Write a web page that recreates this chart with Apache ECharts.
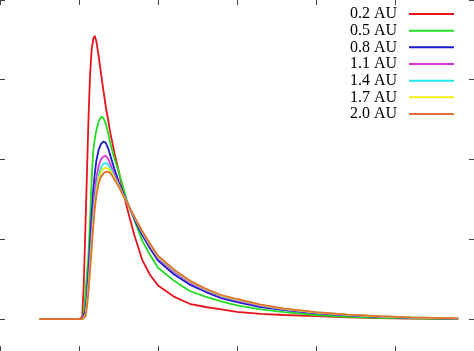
<!DOCTYPE html>
<html style="height: 100%">
   <head>
       <meta charset="utf-8">
       <title>AU profiles</title>
   </head>
   <body style="height: 100%; margin: 0; background: #fff">
       <div id="container" style="width: 474px; height: 351px"></div>
       <script type="text/javascript" src="https://cdn.jsdelivr.net/npm/echarts@6/dist/echarts.min.js"></script>
       <script type="text/javascript">
var xs = [0.5, 1.0, 1.04, 1.06, 1.08, 1.1, 1.12, 1.14, 1.16, 1.18, 1.2, 1.22, 1.25, 1.28, 1.31, 1.34, 1.37, 1.4, 1.45, 1.5,
          1.55, 1.6, 1.7, 1.8, 1.9, 2.0, 2.2, 2.4, 2.6, 2.8, 3.0, 3.3, 3.6, 4.0, 4.4, 4.8, 5.2, 5.8];

var au02 = [0, 0, 0.02, 0.42, 1.1, 1.8, 2.5, 3.05, 3.36, 3.5, 3.54, 3.47, 3.28, 3.06, 2.85, 2.65, 2.48, 2.31, 2.07, 1.86,
            1.63, 1.42, 1.05, 0.74, 0.55, 0.42, 0.28, 0.19, 0.15, 0.12, 0.09, 0.065, 0.05, 0.035, 0.02, 0.01, 0.005, 0];
var au05 = [0, 0, 0, 0.08, 0.3, 0.55, 0.8, 1.25, 1.74, 2.1, 2.25, 2.36, 2.47, 2.53, 2.51, 2.44, 2.32, 2.18, 2.0, 1.85,
            1.68, 1.5, 1.24, 0.98, 0.8, 0.64, 0.48, 0.35, 0.28, 0.22, 0.17, 0.12, 0.085, 0.05, 0.027, 0.015, 0.008, 0];
var au08 = [0, 0, 0, 0, 0.1, 0.3, 0.6, 0.95, 1.3, 1.6, 1.82, 1.98, 2.12, 2.19, 2.22, 2.2, 2.13, 2.03, 1.87, 1.72,
            1.6, 1.48, 1.25, 1.05, 0.88, 0.73, 0.56, 0.43, 0.34, 0.26, 0.21, 0.15, 0.11, 0.07, 0.045, 0.027, 0.015, 0.005];
var au11 = [0, 0, 0, 0, 0.06, 0.22, 0.47, 0.78, 1.1, 1.38, 1.6, 1.77, 1.92, 2.0, 2.03, 2.04, 2.0, 1.93, 1.8, 1.69,
            1.58, 1.48, 1.27, 1.08, 0.91, 0.76, 0.59, 0.455, 0.36, 0.28, 0.23, 0.165, 0.12, 0.078, 0.05, 0.031, 0.017, 0.006];
var au14 = [0, 0, 0, 0, 0.04, 0.18, 0.4, 0.68, 0.98, 1.26, 1.48, 1.65, 1.8, 1.9, 1.94, 1.95, 1.93, 1.88, 1.77, 1.68,
            1.57, 1.475, 1.275, 1.09, 0.925, 0.775, 0.605, 0.47, 0.37, 0.29, 0.24, 0.172, 0.125, 0.082, 0.053, 0.033, 0.019, 0.007];
var au17 = [0, 0, 0, 0, 0.035, 0.16, 0.37, 0.63, 0.92, 1.2, 1.42, 1.59, 1.75, 1.84, 1.88, 1.89, 1.88, 1.85, 1.76, 1.67,
            1.565, 1.47, 1.28, 1.095, 0.935, 0.785, 0.615, 0.475, 0.375, 0.295, 0.245, 0.176, 0.128, 0.084, 0.054, 0.034, 0.02, 0.008];
var au20 = [0, 0, 0, 0, 0.03, 0.15, 0.35, 0.6, 0.88, 1.15, 1.38, 1.55, 1.7, 1.78, 1.82, 1.84, 1.84, 1.82, 1.74, 1.66,
            1.56, 1.47, 1.28, 1.1, 0.94, 0.79, 0.62, 0.48, 0.38, 0.3, 0.25, 0.18, 0.13, 0.085, 0.055, 0.035, 0.02, 0.008];

var names = ['0.2 AU', '0.5 AU', '0.8 AU', '1.1 AU', '1.4 AU', '1.7 AU', '2.0 AU'];
var colors = ['#e8141c', '#22dd22', '#1a1acd', '#dd33dd', '#22e8e8', '#eeee11', '#e07038'];
var values = [au02, au05, au08, au11, au14, au17, au20];

var dom = document.getElementById("container");
var myChart = echarts.init(dom, null, {renderer: 'canvas'});

var tickStyle = {show: true, inside: true, length: 5, lineStyle: {color: '#444', width: 1}};
var noLine = {show: false, onZero: false};

// data sits on grid 0 (top x axis); grid 1 only carries the bottom ticks
var series = names.map(function (n, i) {
    return {
        name: n,
        type: 'line',
        xAxisIndex: 1,
        yAxisIndex: 0,
        showSymbol: false,
        symbol: 'none',
        clip: false,
        lineStyle: {color: colors[i], width: 1.8},
        itemStyle: {color: colors[i]},
        data: xs.map(function (x, j) { return [x, values[i][j]]; })
    };
});

var option = {
    backgroundColor: '#fff',
    animation: false,
    grid: [
        {left: 0, right: 0, top: 0, bottom: 32},
        {left: 0, right: 0, top: 0, bottom: 0}
    ],
    legend: {
        orient: 'vertical',
        align: 'right',
        right: 20,
        top: 6,
        padding: 0,
        icon: 'rect',
        itemWidth: 45,
        itemHeight: 2,
        itemGap: 0.67,
        data: names,
        textStyle: {fontFamily: 'Liberation Serif', fontSize: 16, color: '#000', lineHeight: 16, padding: [0, 7, 0, 0]}
    },
    xAxis: [
        {type: 'value', gridIndex: 1, position: 'bottom', min: 0, max: 6, interval: 1,
         axisLine: noLine, axisTick: tickStyle, axisLabel: {show: false}, splitLine: {show: false}},
        {type: 'value', gridIndex: 0, position: 'top', min: 0, max: 6, interval: 1,
         axisLine: noLine, axisTick: tickStyle, axisLabel: {show: false}, splitLine: {show: false}}
    ],
    yAxis: [
        {type: 'value', gridIndex: 0, position: 'left', min: 0, max: 3.9875, interval: 1,
         axisLine: noLine, axisTick: tickStyle, axisLabel: {show: false}, splitLine: {show: false}},
        {type: 'value', gridIndex: 0, position: 'right', min: 0, max: 3.9875, interval: 1,
         axisLine: noLine, axisTick: tickStyle, axisLabel: {show: false}, splitLine: {show: false}},
        {type: 'value', gridIndex: 1, show: false, min: 0, max: 1}
    ],
    series: series
};
myChart.setOption(option, true);
       </script>
   </body>
</html>
